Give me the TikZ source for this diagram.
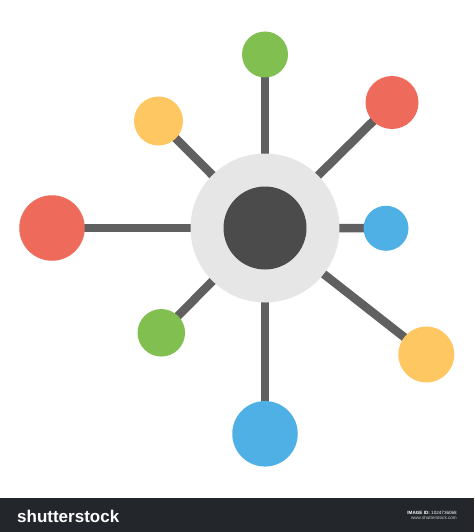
\documentclass[tikz,border=0pt]{standalone}
\usepackage{fontspec}
\setmainfont{Liberation Sans}
\usetikzlibrary{backgrounds}
\definecolor{cgreen}{HTML}{80BF50}
\definecolor{cred}{HTML}{EE6B5C}
\definecolor{cyellow}{HTML}{FFC762}
\definecolor{cblue}{HTML}{4FB0E5}
\definecolor{chubout}{HTML}{E6E6E6}
\definecolor{chubin}{HTML}{4B4B4B}
\definecolor{cspoke}{HTML}{606060}
\definecolor{cbar}{HTML}{23262B}
\tikzset{
  dot/.style={circle, inner sep=0pt, minimum size=#1},
  spoke/.style={draw=cspoke, line width=8.5pt},
}
\begin{document}
\begin{tikzpicture}[x=1pt,y=-1pt]
\useasboundingbox (0,0) rectangle (474,532);
% hub
\node[dot=149, fill=chubout] (hubout) at (265,228) {};
\node[dot=83, fill=chubin] (hubin) at (265,228) {};
% satellites
\node[dot=46, fill=cgreen] (ntop) at (265,54.5) {};
\node[dot=53, fill=cred] (ntr) at (392,102.5) {};
\node[dot=45, fill=cblue] (nright) at (386,228.3) {};
\node[dot=56, fill=cyellow] (nbr) at (426.3,354.5) {};
\node[dot=65.5, fill=cblue] (nbot) at (265,433.8) {};
\node[dot=47.5, fill=cgreen] (nbl) at (161.3,332.8) {};
\node[dot=65.5, fill=cred] (nleft) at (52,228) {};
\node[dot=49, fill=cyellow] (ntl) at (158.5,121) {};
% spokes
\begin{pgfonlayer}{background}
\fill[white] (0,0) rectangle (474,532);
\foreach \n in {ntop,ntr,nright,nbr,nbot,nbl,nleft,ntl}
  \draw[spoke] (hubin.center) -- (\n.center);
\end{pgfonlayer}
% bottom bar
\fill[cbar] (0,498) rectangle (474,532);
\node[anchor=west, text=white, font=\bfseries\fontsize{17}{17}\selectfont, inner sep=0pt] (brand) at (17,516) {shutterstock};
\node[anchor=east, text=white, font=\fontsize{4.6}{5}\selectfont, inner sep=0pt, align=right] (imgid) at (457,515.5) {\textbf{IMAGE ID:} 1024736068\\[0.6pt]{\color{white!75!cbar}www.shutterstock.com}};
\end{tikzpicture}
\end{document}
